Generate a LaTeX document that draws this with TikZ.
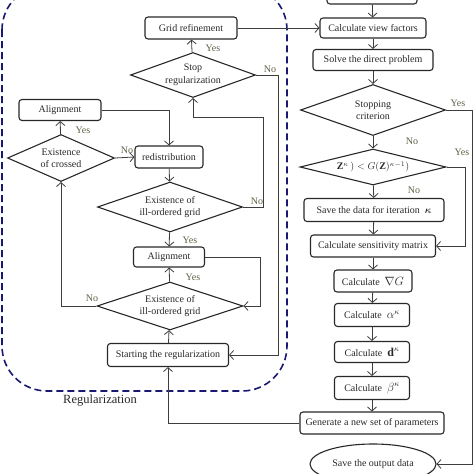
\documentclass[tikz,border=0pt]{standalone}
\usepackage{amsmath}
\usepackage{fontspec}
\setmainfont{Liberation Serif}
\usetikzlibrary{shapes.geometric,arrows.meta,positioning}
\definecolor{regblue}{RGB}{25,25,115}
\definecolor{lblcol}{RGB}{95,95,70}
\definecolor{inkcol}{RGB}{40,40,40}

\begin{document}
\begin{tikzpicture}[x=1pt,y=-1pt,>={Straight Barb[length=4pt,width=9pt]},
  every node/.style={font=\fontsize{10}{12.5}\selectfont,text=inkcol},
  proc/.style={draw=inkcol,rounded corners=3pt,line width=1.1pt,minimum height=22pt,inner sep=0pt},
  cond/.style={draw=inkcol,diamond,line width=1.1pt,inner sep=0pt,align=center},
  lbl/.style={text=lblcol},
  flow/.style={draw=inkcol!90,line width=0.8pt}]
  \useasboundingbox (0,0) rectangle (474,474);
  \clip (0,0) rectangle (474,474);

  % right column
  \node[proc,minimum width=90pt,minimum height=24pt] (init) at (372,-8) {};
  \node[proc,minimum width=106pt,minimum height=20pt] (view) at (373,28) {Calculate view factors};
  \node[proc,minimum width=120pt,minimum height=21pt] (direct) at (373,60) {Solve the direct problem};
  \node[cond,aspect=2.85,minimum width=145pt,minimum height=51pt] (stopc) at (373,110) {Stopping\\criterion};
  \node[cond,aspect=4,minimum width=146pt,minimum height=36pt] (zcrit) at (373,167) {$\mathbf{Z}^{\kappa}\,)<G(\mathbf{Z})^{\kappa-1})$};
  \node[proc,minimum width=140pt,minimum height=23pt] (savek) at (374,210) {Save the data for iteration \ $\boldsymbol{\kappa}$};
  \node[proc,minimum width=125pt] (sens) at (373,246) {Calculate sensitivity matrix};
  \node[proc,minimum width=78pt] (grad) at (373,281) {Calculate \ {\large$\nabla G$}};
  \node[proc,minimum width=75pt,minimum height=23pt] (alpha) at (372,315) {Calculate \ {\large$\alpha^{\kappa}$}};
  \node[proc,minimum width=75pt,minimum height=21pt] (dvec) at (372,352) {Calculate \ {\large$\mathbf{d}^{\kappa}$}};
  \node[proc,minimum width=75pt,minimum height=23pt] (beta) at (372,388) {Calculate \ {\large$\beta^{\kappa}$}};
  \node[proc,minimum width=144pt] (gen) at (372,423) {Generate a new set of parameters};
  \node[draw=inkcol,ellipse,line width=1.1pt,minimum width=126pt,minimum height=40pt,inner sep=0pt] (outdata) at (373,464) {Save the output data};

  % regularization block
  \node[proc,minimum width=92pt] (refine) at (191,28) {Grid refinement};
  \node[cond,aspect=2.8,minimum width=125pt,minimum height=45pt] (stopreg) at (193,75) {Stop\\regularization};
  \node[proc,minimum width=82pt,minimum height=21pt] (align1) at (60,110) {Alignment};
  \node[cond,aspect=2.3,minimum width=107pt,minimum height=47pt] (crossed) at (61,158) {Existence\\of crossed};
  \node[proc,minimum width=68pt] (redist) at (169,157) {redistribution};
  \node[cond,aspect=2.9,minimum width=145pt,minimum height=50pt] (illgrid1) at (170,207) {Existence of\\ill-ordered grid};
  \node[proc,minimum width=71pt,minimum height=20pt] (align2) at (169,257) {Alignment};
  \node[cond,aspect=3,minimum width=146pt,minimum height=48pt] (illgrid2) at (170,306) {Existence of\\ill-ordered grid};
  \node[proc,minimum width=121pt,minimum height=23pt] (startreg) at (168,355) {Starting the regularization};

  \draw[regblue,dashed,dash pattern=on 7pt off 4pt,line width=1.6pt,rounded corners=45pt] (2,-15) rectangle (287,391);
  \node[font=\fontsize{12.5}{14}\selectfont] (reglabel) at (100,401) {Regularization};

  \coordinate (redge) at (472,0);
  \coordinate (sbelow) at (193,117);

  % right column flow
  \draw[flow,->] (init) -- (view);
  \draw[flow,->] (view) -- (direct);
  \draw[flow,->] (direct) -- (stopc);
  \draw[flow,->] (stopc) -- (zcrit);
  \draw[flow,->] (zcrit) -- (savek);
  \draw[flow,->] (savek) -- (sens);
  \draw[flow,->] (sens) -- (grad);
  \draw[flow,->] (grad) -- (alpha);
  \draw[flow,->] (alpha) -- (dvec);
  \draw[flow,->] (dvec) -- (beta);
  \draw[flow,->] (beta) -- (gen);
  \draw[flow,->] (stopc.east) -- (stopc.east -| redge) |- (outdata.east);
  \draw[flow,->] (zcrit.east) -- ++(19,0) |- (sens.east);
  \draw[flow,->] (gen.west) -| (startreg.south);

  % regularization flow
  \draw[flow,->] (startreg) -- (illgrid2);
  \draw[flow,->] (illgrid2) -- (align2);
  \draw[flow,->] (align2.east) -- ++(55,0) |- (illgrid2.east);
  \draw[flow,->] (illgrid2.west) -| (crossed.south);
  \draw[flow,->] (crossed) -- (align1);
  \draw[flow,->] (crossed.east) -- (redist.west);
  \draw[flow,->] (align1.east) -| (redist.north);
  \draw[flow,->] (redist) -- (illgrid1);
  \draw[flow,->] (illgrid1) -- (align2);
  \draw[flow,->] (illgrid1.east) -- ++(20,0) |- (sbelow) -- (stopreg.south);
  \draw[flow,->] (stopreg) -- (refine);
  \draw[flow,->] (stopreg.east) -- ++(22,0) |- (startreg.east);
  \draw[flow,->] (refine.east) -- (view.west);

  % labels
  \node[lbl] at (213,48) {Yes};
  \node[lbl] at (270,69) {No};
  \node[lbl] at (83,130) {Yes};
  \node[lbl] at (127,150) {No};
  \node[lbl] at (257,201) {No};
  \node[lbl] at (190,240) {Yes};
  \node[lbl] at (193,277) {Yes};
  \node[lbl] at (92,298) {No};
  \node[lbl] at (458,103) {Yes};
  \node[lbl] at (412,141) {No};
  \node[lbl] at (462,152) {Yes};
  \node[lbl] at (414,190) {No};
\end{tikzpicture}
\end{document}
